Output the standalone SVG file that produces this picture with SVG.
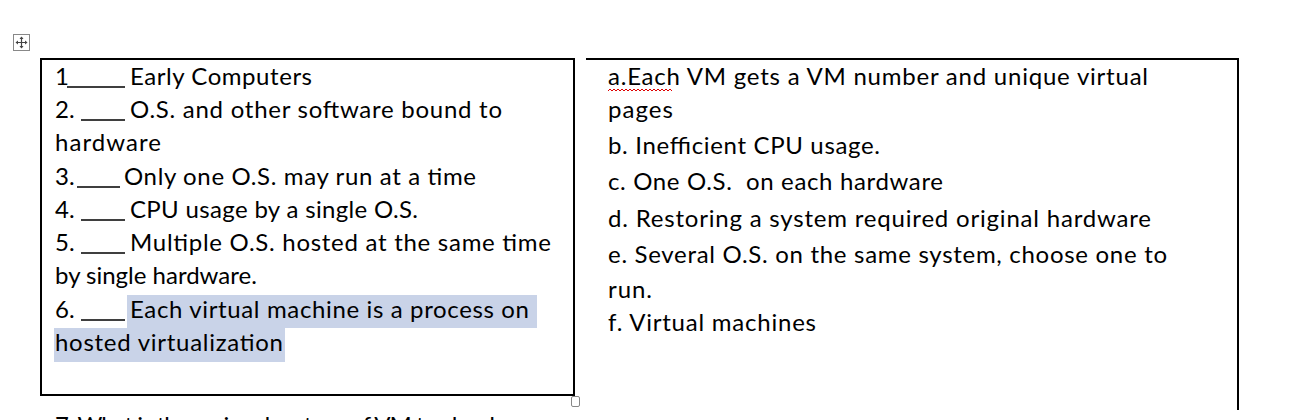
<svg xmlns="http://www.w3.org/2000/svg" width="1300" height="420" viewBox="0 0 1300 420">
<style>
text{font-family:Lato,"Open Sans","Liberation Sans",sans-serif;font-size:24px;fill:#000}
.box{fill:none;stroke:#000;stroke-width:2}
.bl{stroke:#000;stroke-width:1.5}
</style>
<rect width="1300" height="420" fill="#fff"/>
<g id="move-icon">
<rect x="13.5" y="34.5" width="16" height="16" fill="#fff" stroke="#888"/>
<path d="M21.5 37v11M16 42.5h11" stroke="#444" stroke-width="1.2"/>
<path d="M21.5 36.5l-2 2.5h4zM21.5 48.5l-2-2.5h4zM15.5 42.5l2.5-2v4zM27.5 42.5l-2.5-2v4z" fill="#444"/>
</g>
<g id="left-box">
<rect class="box" x="41" y="59" width="533" height="336"/>
<rect x="127" y="295" width="410" height="33" fill="#c9d3e8"/>
<rect x="54" y="328" width="231" height="34" fill="#c9d3e8"/>
<path class="bl" d="M67 87H125M81 120H125M77 187H120M81 220H125M81 253H125M81 320H125"/>
<text x="55" y="85">1</text>
<text x="130" y="85" textLength="182">Early Computers</text>
<text x="55" y="118">2.</text>
<text x="130" y="118" textLength="372">O.S. and other software bound to</text>
<text x="55" y="151" textLength="106">hardware</text>
<text x="55" y="185">3.</text>
<text x="124" y="185" textLength="352">Only one O.S. may run at a time</text>
<text x="55" y="218">4.</text>
<text x="130" y="218" textLength="288">CPU usage by a single O.S.</text>
<text x="55" y="251">5.</text>
<text x="130" y="251" textLength="421">Multiple O.S. hosted at the same time</text>
<text x="55" y="284">by single hardware.</text>
<text x="55" y="318">6.</text>
<text x="130" y="318" textLength="399">Each virtual machine is a process on</text>
<text x="55" y="351" textLength="228">hosted virtualization</text>
<rect x="571.5" y="396.5" width="8" height="10" rx="1.5" fill="#fff" stroke="#888"/>
</g>
<g id="right-box">
<path class="box" d="M586 59H1238V410"/>
<text x="608" y="85" textLength="540">a.Each VM gets a VM number and unique virtual</text>
<path d="M608 91l2-2 2 2 2-2 2 2 2-2 2 2 2-2 2 2 2-2 2 2 2-2 2 2 2-2 2 2 2-2 2 2 2-2 2 2 2-2 2 2 2-2 2 2 2-2 2 2 2-2 2 2 2-2 2 2 2-2 2 2 2-2 2 2" fill="none" stroke="#d00" stroke-width="1"/>
<text x="608" y="118" textLength="65">pages</text>
<text x="608" y="154" textLength="272">b. Inefficient CPU usage.</text>
<text x="608" y="190" textLength="335" xml:space="preserve">c. One O.S.  on each hardware</text>
<text x="608" y="227" textLength="543">d. Restoring a system required original hardware</text>
<text x="608" y="263" textLength="559">e. Several O.S. on the same system, choose one to</text>
<text x="608" y="298" textLength="44">run.</text>
<text x="608" y="331" textLength="208">f. Virtual machines</text>
</g>
<text x="55" y="434" textLength="440">7. What is the main advantage of VM to cloud</text>
</svg>
